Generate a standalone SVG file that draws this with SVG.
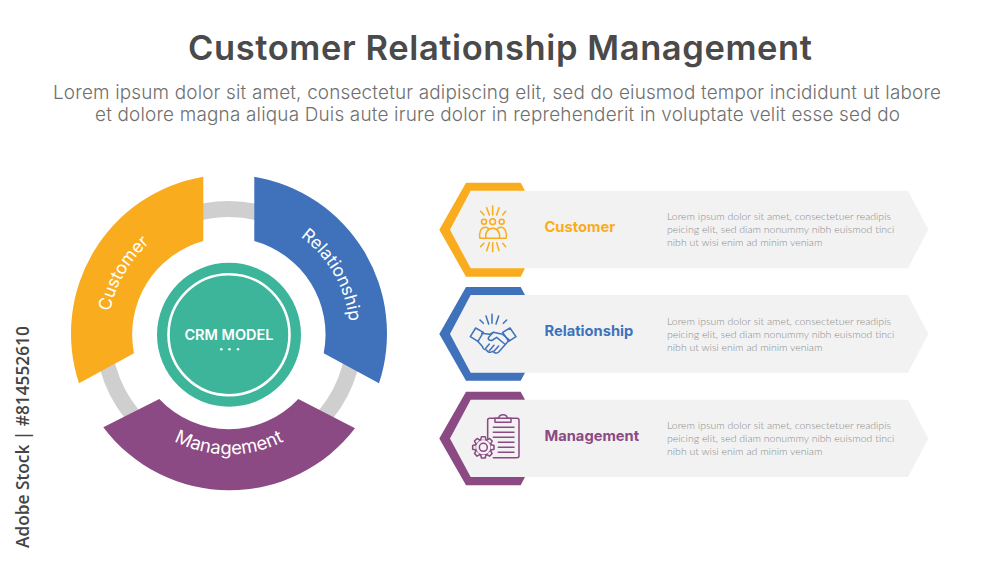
<svg xmlns="http://www.w3.org/2000/svg" xmlns:xlink="http://www.w3.org/1999/xlink" width="1000" height="563" viewBox="0 0 1000 563">
<style>
.t{font-family:Inter,"Open Sans","Liberation Sans",sans-serif}
.seg{font-family:Inter,"Open Sans",sans-serif;font-size:17.5px;fill:#fff;font-weight:400;text-anchor:middle}
.head{font-family:Inter,"Open Sans",sans-serif;font-size:14.7px;font-weight:700}
.body{font-family:Lato,"Open Sans",sans-serif;font-size:10.5px;font-weight:300;fill:#8a8a8a}
.bar{fill:#f2f2f2}
.ic{fill:none;stroke-width:4.6;stroke-linecap:round;stroke-linejoin:round}
</style>
<defs>
<path id="pc" d="M124.2,395 A121 121 0 0 1 229,213.5"/>
<path id="pr" d="M229,213.5 A121 121 0 0 1 333.8,395"/>
<path id="pm" d="M109,334.5 A120 120 0 0 0 349,334.5"/>
<path id="tooth" d="M-8,-23 L-5.5,-32 H5.5 L8,-23"/>
</defs>
<rect width="1000" height="563" fill="#fff"/>
<text class="t" x="500" y="59.5" text-anchor="middle" font-size="34.5" font-weight="600" fill="#4a4a4a" textLength="624">Customer Relationship Management</text>
<text class="t" x="497" y="99" text-anchor="middle" font-size="18.9" font-weight="300" fill="#6f6f6f" textLength="888">Lorem ipsum dolor sit amet, consectetur adipiscing elit, sed do eiusmod tempor incididunt ut labore</text>
<text class="t" x="497.5" y="121" text-anchor="middle" font-size="18.9" font-weight="300" fill="#6f6f6f" textLength="805">et dolore magna aliqua Duis aute irure dolor in reprehenderit in voluptate velit esse sed do</text>
<g id="connectors"><circle cx="229" cy="334.5" r="125.5" fill="none" stroke="#cfcfcf" stroke-width="16"/></g>
<g id="seg-customer">
<path d="M203.3,176.7 A159 159 0 0 0 79,383.3 L134,353.3 A97 97 0 0 1 203.3,241 Z" fill="#f9ac1e"/>
<text class="seg"><textPath href="#pc" startOffset="50%">Customer</textPath></text>
</g>
<g id="seg-relationship">
<path d="M254.3,176.7 A159 159 0 0 1 379,383.3 L323.7,353.3 A97 97 0 0 0 254.3,241 Z" fill="#4072bc"/>
<text class="seg"><textPath href="#pr" startOffset="50%">Relationship</textPath></text>
</g>
<g id="seg-management">
<path d="M103.3,427.3 A158 158 0 0 0 355,428.3 L298.3,399 A95 95 0 0 1 159.3,399 Z" fill="#8c4a84"/>
<text class="seg" style="font-size:18.5px"><textPath href="#pm" startOffset="50%">Management</textPath></text>
</g>
<g id="center">
<circle cx="229" cy="334.7" r="72" fill="#3cb59a"/>
<circle cx="229" cy="334.7" r="60.5" fill="none" stroke="#fff" stroke-width="2.6"/>
<text class="t" x="229" y="340" text-anchor="middle" font-size="14.5" font-weight="600" fill="#fff">CRM MODEL</text>
<circle cx="221.3" cy="349.3" r="1.3" fill="#fff"/><circle cx="229.5" cy="349.3" r="1.3" fill="#fff"/><circle cx="238" cy="349.3" r="1.3" fill="#fff"/>
</g>
<g id="item-customer">
<path class="bar" d="M470.7,190.7 H908 L928.3,229.5 L908,268.3 H470.7 L450,229.5 Z"/>
<path fill="#f9ac1e" d="M466,182.7 H520.7 L525,190.7 H470.7 L450,229.7 L470.7,268.3 H525 L520.7,276.7 H466 L439.3,229.7 Z"/>
<g class="ic" stroke="#f9ac1e" transform="translate(430,170) scale(.3333)">
<path d="M188,108V135M170,113L178,135M207,113L200,135M152,124L162,135M227,124L218,135M188,245V218M170,242L178,218M207,242L200,218M152,230L162,220M227,230L218,220"/>
<circle cx="162" cy="155" r="7.5"/><circle cx="188" cy="155" r="8.5"/><circle cx="215" cy="155" r="7.5"/>
<path d="M168,205H150C146,190 152,172 166,172C172,172 175,175 177,178M208,205H228C232,190 226,172 212,172C206,172 203,175 201,178M168,205C164,188 174,175 188,175C202,175 212,188 208,205Z"/>
</g>
<text class="head" x="544.5" y="231.5" fill="#f9ac1e">Customer</text>
<text class="body" x="667" y="220">Lorem ipsum dolor sit amet, consectetuer readipis</text>
<text class="body" x="667" y="233">peicing elit, sed diam nonummy nibh euismod tinci</text>
<text class="body" x="667" y="246">nibh ut wisi enim ad minim veniam</text>
</g>
<g id="item-relationship">
<path class="bar" d="M470.7,295 H908 L928.3,334 L908,372.7 H470.7 L450,334 Z"/>
<path fill="#4072bc" d="M466,287 H520.7 L525,295 H470.7 L450,334 L470.7,372.7 H525 L520.7,380.7 H466 L439.3,334 Z"/>
<g class="ic" stroke="#4072bc" transform="translate(430,280) scale(.3333)">
<path d="M186,103V130M168,108L176,132M206,108L198,132M150,120L160,130M230,120L220,130"/>
<path d="M121,170L137,144L160,157L144,184ZM258,170L240,144L218,157L236,184Z"/>
<path d="M155,160L178,163L190,157L218,163L238,180L206,216C200,222 192,218 188,214C180,220 172,216 170,210C162,210 158,204 158,200L142,182"/>
<path d="M190,157L176,172C172,178 180,184 188,180L200,172L224,192M192,214L206,198M178,212L192,196M166,206L178,192"/>
</g>
<text class="head" x="544.5" y="336" fill="#4072bc">Relationship</text>
<text class="body" x="667" y="325">Lorem ipsum dolor sit amet, consectetuer readipis</text>
<text class="body" x="667" y="338">peicing elit, sed diam nonummy nibh euismod tinci</text>
<text class="body" x="667" y="351">nibh ut wisi enim ad minim veniam</text>
</g>
<g id="item-management">
<path class="bar" d="M470.7,399.7 H908 L928.3,438.4 L908,477 H470.7 L450,438.4 Z"/>
<path fill="#8c4a84" d="M466,391.7 H520.7 L525,399.7 H470.7 L450,438.4 L470.7,477 H525 L520.7,485.3 H466 L439.3,438.4 Z"/>
<g class="ic" stroke="#8c4a84" transform="translate(430,385) scale(.3333)">
<path d="M173,160V106Q173,100 179,100H261Q267,100 267,106V212Q267,218 261,218H190"/>
<path d="M195,100V112H243V100H232C230,86 208,86 206,100Z"/>
<path d="M190,127H252M190,142H252M190,157H252M205,172H252M205,187H252M205,202H252"/>
<g transform="translate(160,187)" fill="#f2f2f2">
<circle r="24"/>
<use href="#tooth"/><use href="#tooth" transform="rotate(45)"/><use href="#tooth" transform="rotate(90)"/><use href="#tooth" transform="rotate(135)"/><use href="#tooth" transform="rotate(180)"/><use href="#tooth" transform="rotate(225)"/><use href="#tooth" transform="rotate(270)"/><use href="#tooth" transform="rotate(315)"/>
<circle r="12"/>
</g>
</g>
<text class="head" x="544.5" y="440.5" fill="#8c4a84">Management</text>
<text class="body" x="667" y="429">Lorem ipsum dolor sit amet, consectetuer readipis</text>
<text class="body" x="667" y="442">peicing elit, sed diam nonummy nibh euismod tinci</text>
<text class="body" x="667" y="455">nibh ut wisi enim ad minim veniam</text>
</g>
<text transform="translate(29,548) rotate(-90)" font-family="Open Sans,sans-serif" font-size="17.3" font-weight="600" fill="#444">Adobe Stock | #814552610</text>
</svg>
